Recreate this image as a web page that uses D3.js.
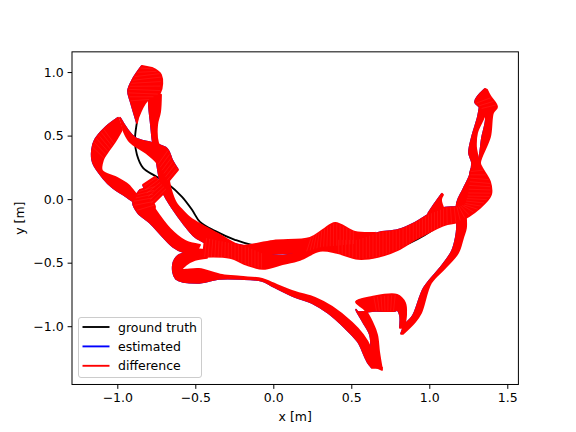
<!DOCTYPE html>
<html><head><meta charset="utf-8">
<script src="https://cdnjs.cloudflare.com/ajax/libs/d3/7.8.5/d3.min.js"></script>
<style>html,body{margin:0;padding:0;background:#fff}svg{display:block}text{font-family:"DejaVu Sans";fill:#000}</style>
</head><body><div id="c"></div>
<script>
// each row: estimated x, estimated y, ground-truth side x, ground-truth side y (metres)
const bandBlob=[[-.874,.600,-.867,.640],[-.912,.758,-.810,.774],[-.931,.852,-.726,.837],[-.899,.947,-.720,.978],[-.842,1.049,-.778,1.033]];
const bandLeg=[[-.797,.821,-.720,.821],[-.797,.742,-.726,.687],[-.784,.585,-.745,.585],[-.771,.443,-.739,.443],[-.758,.388,-.713,.388],[-.739,.231,-.681,.231],[-.713,.073,-.656,.073],[-.681,-.006,-.624,-.029],[-.649,-.068,-.598,-.068],[-.579,-.187,-.534,-.147],[-.502,-.297,-.438,-.218],[-.406,-.360,-.354,-.273],[-.310,-.415,-.265,-.337],[-.181,-.462,-.213,-.366],[-.002,-.430,-.002,-.328],[.203,-.415,.235,-.305],[.312,-.375,.319,-.242],[.396,-.368,.396,-.187],[.524,-.352,.524,-.257],[.652,-.320,.652,-.265]];
const bandLoop=[[-.995,.640,-.970,.545],[-1.079,.561,-1.015,.451],[-1.143,.467,-1.066,.364],[-1.162,.388,-1.092,.309],[-1.156,.286,-1.098,.223],[-1.092,.168,-1.015,.175],[-1.028,.089,-.931,.113],[-.951,.026,-.867,.018],[-.887,-.029,-.822,-.045]];
const bandDiamond=[[-.983,.640,-.957,.530],[-.887,.482,-.919,.451],[-.778,.443,-.816,.364],[-.681,.396,-.745,.286],[-.649,.309,-.707,.215],[-.611,.231,-.675,.136]];
const bandCross=[[-.835,.113,-.758,.175],[-.778,-.045,-.681,.073]];
const bandStrandA=[[-.854,.073,-.758,.113],[-.899,-.029,-.778,-.006],[-.867,-.108,-.758,-.061],[-.790,-.187,-.784,-.131],[-.707,-.297,-.681,-.257],[-.643,-.375,-.611,-.344],[-.579,-.415,-.534,-.383],[-.470,-.415,-.444,-.399]];
const bandStrandB=[[-.790,-.124,-.765,-.068],[-.694,-.249,-.662,-.234],[-.598,-.344,-.566,-.328],[-.483,-.391,-.470,-.360]];
const bandCentre=[[-.438,-.305,-.451,-.454],[-.278,-.345,-.278,-.462],[-.169,-.375,-.169,-.517],[-.066,-.430,-.066,-.549],[.043,-.445,.043,-.517],[.171,-.420,.171,-.478],[.299,-.383,.299,-.407],[.408,-.320,.408,-.423],[.543,-.320,.543,-.470],[.671,-.265,.671,-.454],[.799,-.243,.799,-.399],[.908,-.187,.908,-.320],[1.004,-.116,1.004,-.257],[1.101,-.068,1.101,-.202],[1.171,-.061,1.184,-.179],[1.229,-.045,1.325,-.068],[1.248,.034,1.395,.034],[1.261,.152,1.389,.136],[1.267,.231,1.338,.246],[1.312,.294,1.325,.286],[1.338,.482,1.389,.490],[1.363,.640,1.408,.679],[1.344,.703,1.434,.726],[1.293,.766,1.389,.813],[1.357,.868,1.370,.860]];
const bandRight=[[1.325,.742,1.363,.719],[1.312,.648,1.351,.648],[1.274,.490,1.306,.522],[1.255,.364,1.299,.412],[1.274,.286,1.312,.309],[1.261,.191,1.299,.231],[1.216,.073,1.261,.034],[1.178,-.029,1.235,-.045],[1.178,-.226,1.235,-.226],[1.171,-.297,1.216,-.305],[1.146,-.407,1.184,-.423],[1.081,-.525,1.101,-.541],[.966,-.698,1.011,-.659],[.895,-.918,.947,-.895],[.844,-.989,.908,-.966],[.819,-1.060,.831,-1.060]];
const bandHook=[[.812,-1.013,.838,-1.013],[.812,-.911,.851,-.911],[.793,-.871,.844,-.816],[.780,-.879,.793,-.753],[.652,-.879,.633,-.769],[.543,-.887,.530,-.808],[.530,-.871,.588,-.871],[.575,-.966,.633,-.966],[.620,-1.068,.665,-1.068],[.626,-1.202,.678,-1.202],[.613,-1.296,.697,-1.343]];
const bandReturn=[[.633,-1.328,.697,-1.328],[.607,-1.288,.633,-1.225],[.588,-1.241,.620,-1.162],[.543,-1.123,.575,-1.068],[.460,-1.013,.504,-.973],[.351,-.895,.376,-.848],[.248,-.816,.267,-.777],[.139,-.769,.139,-.730],[-.008,-.682,-.008,-.659],[-.072,-.643,-.072,-.627],[-.213,-.627,-.213,-.611],[-.348,-.627,-.329,-.596],[-.489,-.659,-.476,-.549],[-.624,-.627,-.560,-.556],[-.643,-.517,-.585,-.556],[-.611,-.446,-.560,-.517],[-.534,-.415,-.502,-.478],[-.438,-.399,-.425,-.462]];
const bandTip=[[.992,-.116,1.101,-.100],[1.030,-.045,1.075,-.006],[1.081,.042,1.088,.034]];
const groundX=[-.854,-.874,-.887,-.874,-.835,-.758,-.675,-.585,-.521,-.470,-.374,-.246,-.137,.171,.492,.716,.876,1.069,1.210];
const groundY=[.782,.609,.467,.349,.246,.183,.120,.018,-.084,-.179,-.250,-.320,-.360,-.390,-.399,-.399,-.344,-.202,-.045];
const xTicks=[-1,-.5,0,.5,1,1.5];
const yTicks=[-1,-.5,0,.5,1];
const legendLabels=["ground truth","estimated","difference"];
const legendColors=["#000","#00f","#f00"];
const bands=[bandBlob,bandLeg,bandLoop,bandDiamond,bandCross,bandStrandA,bandStrandB,bandCentre,bandRight,bandHook,bandReturn,bandTip];

const W=576,H=432,L=72,R=518.4,T=51.84,B=384.48;
const x=d3.scaleLinear().domain([-1.2904,1.5712]).range([L,R]);
const y=d3.scaleLinear().domain([-1.4585,1.1591]).range([B,T]);
const minus=s=>s.replace("-","\u2212");
const svg=d3.select("#c").append("svg").attr("width",W).attr("height",H);
svg.append("clipPath").attr("id","p").append("rect").attr("x",L).attr("y",T).attr("width",R-L).attr("height",B-T);
const g=svg.append("g").attr("clip-path","url(#p)");
const curve=d3.curveCatmullRom.alpha(.5);
const line=d3.line().x(d=>x(d[0])).y(d=>y(d[1]));
const edge=d3.line().x(d=>x(d[0])).y(d=>y(d[1])).curve(curve);
const area=d3.area().x0(d=>x(d[0])).y0(d=>y(d[1])).x1(d=>x(d[2])).y1(d=>y(d[3])).curve(curve);
g.append("path").attr("d",edge(groundX.map((v,i)=>[v,groundY[i]]))).attr("fill","none").attr("stroke","#000").attr("stroke-width",1.875);
bands.forEach(b=>g.append("path").attr("d",edge(b)).attr("fill","none").attr("stroke","#00f").attr("stroke-width",1.875));
bands.forEach(b=>{
  g.append("path").attr("d",area(b)).attr("fill","#f00").attr("stroke","#f00").attr("stroke-width",1.875).attr("stroke-linejoin","round");
});
bands.forEach(b=>{
  // fine gaps between neighbouring difference segments show where the band is wide
  d3.pairs(b).forEach(([p,q])=>{
    const wp=Math.hypot(x(p[0])-x(p[2]),y(p[1])-y(p[3])), wq=Math.hypot(x(q[0])-x(q[2]),y(q[1])-y(q[3]));
    if((wp+wq)/2<15) return;
    const len=Math.hypot(x((p[0]+p[2])/2)-x((q[0]+q[2])/2),y((p[1]+p[3])/2)-y((q[1]+q[3])/2));
    const n=Math.floor(len/3.2);
    d3.range(n).forEach(k=>{
      const m=d3.interpolateNumberArray(p,q)((k+.5)/n);
      g.append("path").attr("d",line([[m[0],m[1]],[m[2],m[3]]])).attr("stroke","#fff").attr("stroke-opacity",.09).attr("stroke-width",.8).attr("fill","none");
    });
  });
});
const ax=svg.append("g").attr("transform",`translate(0,${B})`).call(d3.axisBottom(x).tickValues(xTicks).tickSize(4.4).tickPadding(4).tickFormat(d=>minus(d3.format(".1f")(d))));
const ay=svg.append("g").attr("transform",`translate(${L},0)`).call(d3.axisLeft(y).tickValues(yTicks).tickSize(4.4).tickPadding(4).tickFormat(d=>minus(d3.format(".1f")(d))));
[ax,ay].forEach(a=>{a.select(".domain").remove();a.selectAll("text").style("font-family","DejaVu Sans").style("font-size","12.5px").attr("fill","#000");a.selectAll("line").attr("stroke","#000").attr("stroke-width",1);});
svg.append("rect").attr("x",L).attr("y",T).attr("width",R-L).attr("height",B-T).attr("fill","none").attr("stroke","#000").attr("stroke-width",1);
svg.append("text").attr("x",(L+R)/2).attr("y",421).attr("text-anchor","middle").style("font-size","12.5px").text("x [m]");
svg.append("text").attr("transform",`translate(24,${(T+B)/2}) rotate(-90)`).attr("text-anchor","middle").style("font-size","12.5px").text("y [m]");
const lg=svg.append("g").attr("transform","translate(78.5,317.5)");
lg.append("rect").attr("width",123).attr("height",60).attr("rx",2.5).attr("fill","#fff").attr("fill-opacity",.8).attr("stroke","#ccc").attr("stroke-width",1);
legendLabels.forEach((t,i)=>{
  const yy=9.5+i*19.4;
  lg.append("line").attr("x1",4).attr("x2",31).attr("y1",yy).attr("y2",yy).attr("stroke",legendColors[i]).attr("stroke-width",1.875);
  lg.append("text").attr("x",39.5).attr("y",yy+4.5).style("font-size","12.5px").text(t);
});
</script></body></html>
